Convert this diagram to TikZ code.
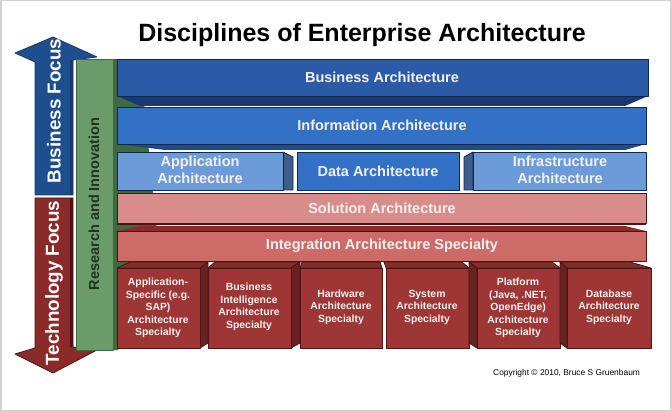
\documentclass[tikz,border=0pt]{standalone}
\usepackage{fontspec}
\setmainfont{Liberation Sans}
\definecolor{busblue}{HTML}{2B5AA6}
\definecolor{busdark}{HTML}{1A3872}
\definecolor{infblue}{HTML}{3371C6}
\definecolor{infdark}{HTML}{22498C}
\definecolor{ltblue}{HTML}{6C9BDA}
\definecolor{slate}{HTML}{3F5E8C}
\definecolor{edgeblue}{HTML}{12264A}
\definecolor{solpink}{HTML}{D98D8B}
\definecolor{intred}{HTML}{CD6B69}
\definecolor{boxred}{HTML}{9D3634}
\definecolor{boxside}{HTML}{6A2220}
\definecolor{boxtop}{HTML}{882C2A}
\definecolor{edgered}{HTML}{4A1514}
\definecolor{greenA}{HTML}{6B9B6A}
\definecolor{greenB}{HTML}{3E6B3E}
\definecolor{gtext}{HTML}{1D361D}
\definecolor{arrblue}{HTML}{1F4E8E}
\definecolor{arrred}{HTML}{8A2B2A}
\definecolor{wtext}{HTML}{F4F0F0}
\tikzset{
  bartext/.style={text=wtext, font=\bfseries\fontsize{14.5}{17}\selectfont, align=center, inner sep=0pt},
  boxtext/.style={text=wtext, font=\bfseries\fontsize{10.4}{12.5}\selectfont, align=center, inner sep=0pt},
  focustext/.style={text=white, font=\bfseries\fontsize{18.8}{22}\selectfont, rotate=90, inner sep=0pt},
  bluebar/.style={draw=edgeblue, line width=0.8pt},
  redbar/.style={draw=edgered, line width=0.8pt},
}
\begin{document}
\begin{tikzpicture}[x=1pt,y=-1pt,line join=round]
\useasboundingbox (0,0) rectangle (671,411);
\fill[white] (0,0) rectangle (671,411);
\draw[black!18, line width=1.5pt] (0.75,0.75) rectangle (670.25,410.25);

% title
\node[font=\bfseries\fontsize{25}{30}\selectfont] (title) at (362,35) {Disciplines of Enterprise Architecture};

% focus arrows
\filldraw[fill=arrblue, draw=busdark, line width=0.8pt] (35,195) -- (35,62) -- (15,53) -- (53,37) -- (97,57) -- (73,60) -- (73,195) -- cycle;
\fill[busdark] (70,60) rectangle (73,195);
\node[focustext] (bf) at (54,111) {Business Focus};
\filldraw[fill=arrred, draw=edgered, line width=0.8pt] (35,198) -- (73,198) -- (73,347) -- (97,350) -- (53,373) -- (15,354) -- (35,348) -- cycle;
\fill[edgered] (70,198) rectangle (73,347);
\node[focustext] (tf) at (54,283) {Technology Focus};

% research and innovation
\fill[greenB] (113,59) -- (140,62) -- (160,262) -- (140,262) -- (118,350) -- (113,350) -- cycle;
\fill[greenB] (113,59) rectangle (140,262);
\filldraw[fill=greenA, draw=greenB, line width=0.8pt] (76,59) rectangle (113,350);
\node[text=gtext, font=\bfseries\fontsize{14.5}{17}\selectfont, rotate=90, inner sep=0pt] (ri) at (94,204) {Research and Innovation};

% business architecture
\fill[busdark] (117,96) -- (648,96) -- (625,106) -- (140,106) -- cycle;
\filldraw[fill=busblue, bluebar] (117,59) rectangle (648,96);
\node[bartext] (ba) at (382,77) {Business Architecture};

% information architecture
\fill[infdark] (117,144) -- (646,144) -- (625,150) -- (165,150) -- cycle;
\filldraw[fill=infblue, bluebar] (117,107) rectangle (646,144);
\node[bartext] (ia) at (382,125) {Information Architecture};

% application / data / infrastructure
\filldraw[fill=slate, bluebar] (283,152) -- (293,157) -- (293,190) -- (283,190) -- cycle;
\filldraw[fill=ltblue, bluebar] (117,152) rectangle (283,190);
\node[bartext] (aa) at (200,170) {Application\\Architecture};
\filldraw[fill=infblue, bluebar] (297,152) rectangle (459,190);
\node[bartext] (da) at (378,171) {Data Architecture};
\filldraw[fill=slate, bluebar] (464,157) -- (473,152) -- (473,190) -- (464,190) -- cycle;
\filldraw[fill=ltblue, bluebar] (473,152) rectangle (646,190);
\node[bartext] (xa) at (560,170) {Infrastructure\\Architecture};

% solution architecture
\fill[edgered] (117,223) rectangle (646,225.5);
\filldraw[fill=solpink, redbar] (117,193) rectangle (646,223);
\node[bartext] (sa) at (382,208) {Solution Architecture};

% integration architecture specialty
\fill[boxtop] (117,231) -- (140,226) -- (625,226) -- (646,231) -- cycle;
\filldraw[fill=intred, redbar] (117,231) rectangle (646,261);
\node[bartext] (is) at (382,246) {Integration Architecture Specialty};

% specialty boxes
\begin{scope}[redbar]
\filldraw[fill=boxtop] (117,268) -- (130,262) -- (208,262) -- (200,268) -- cycle;
\filldraw[fill=boxside] (200,268) -- (208,262) -- (208,343) -- (200,348) -- cycle;
\filldraw[fill=boxred] (117,268) rectangle (200,348);
\filldraw[fill=boxtop] (208,268) -- (215,262) -- (300,262) -- (291,268) -- cycle;
\filldraw[fill=boxside] (291,268) -- (300,262) -- (300,343) -- (291,348) -- cycle;
\filldraw[fill=boxred] (208,268) rectangle (291,348);
\filldraw[fill=boxtop] (300,268) -- (302,262) -- (380,262) -- (382,268) -- cycle;
\filldraw[fill=boxred] (300,268) rectangle (382,348);
\filldraw[fill=boxtop] (386,268) -- (384,262) -- (462,262) -- (469,268) -- cycle;
\filldraw[fill=boxred] (386,268) rectangle (469,348);
\filldraw[fill=boxtop] (469,262) -- (552,262) -- (560,268) -- (477,268) -- cycle;
\filldraw[fill=boxside] (469,262) -- (477,268) -- (477,348) -- (469,343) -- cycle;
\filldraw[fill=boxred] (477,268) rectangle (560,348);
\filldraw[fill=boxtop] (560,262) -- (630,262) -- (651,268) -- (567,268) -- cycle;
\filldraw[fill=boxside] (560,262) -- (567,268) -- (567,348) -- (560,343) -- cycle;
\filldraw[fill=boxred] (567,268) rectangle (651,348);
\end{scope}
\node[boxtext] (b1) at (158,308) {Application-\\Specific (e.g.\\SAP)\\Architecture\\Specialty};
\node[boxtext] (b2) at (249,307) {Business\\Intelligence\\Architecture\\Specialty};
\node[boxtext] (b3) at (341,307) {Hardware\\Architecture\\Specialty};
\node[boxtext] (b4) at (427,307) {System\\Architecture\\Specialty};
\node[boxtext] (b5) at (518,308) {Platform\\(Java, .NET,\\OpenEdge)\\Architecture\\Specialty};
\node[boxtext] (b6) at (609,307) {Database\\Architecture\\Specialty};

% copyright
\node[font=\fontsize{8.4}{10}\selectfont, anchor=west, inner sep=0pt] (copy) at (493,373) {Copyright \textcopyright{} 2010, Bruce S Gruenbaum};
\end{tikzpicture}
\end{document}
